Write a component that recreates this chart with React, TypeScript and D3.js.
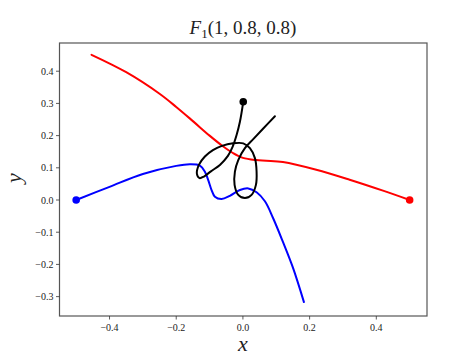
import React from "react";
import * as d3 from "d3";

const xTicks = [-0.4, -0.2, 0.0, 0.2, 0.4];
const yTicks = [-0.3, -0.2, -0.1, 0.0, 0.1, 0.2, 0.3, 0.4];

const redX = [-0.454, -0.35, -0.25, -0.2, -0.15, -0.1, -0.06, -0.03, 0.0, 0.04, 0.07, 0.12, 0.22, 0.32, 0.42, 0.5];
const redY = [0.451, 0.397, 0.33, 0.289, 0.245, 0.2, 0.167, 0.146, 0.131, 0.124, 0.122, 0.118, 0.094, 0.063, 0.029, 0.0];

const blueX = [-0.5, -0.4, -0.3, -0.2, -0.159, -0.129, -0.114, -0.104, -0.094, -0.084, -0.064, -0.039, -0.009, 0.016, 0.041, 0.066, 0.09, 0.12, 0.15, 0.183];
const blueY = [0.0, 0.041, 0.081, 0.106, 0.111, 0.107, 0.088, 0.062, 0.031, 0.01, 0.003, 0.013, 0.031, 0.036, 0.024, -0.004, -0.055, -0.13, -0.21, -0.317];

const blackX = [0.001, -0.009, -0.019, -0.031, -0.045, -0.069, -0.096, -0.117, -0.13, -0.138, -0.132, -0.114, -0.09, -0.063, -0.03, 0.001, 0.021, 0.036, 0.041, 0.039, 0.026, 0.006, -0.014, -0.025, -0.024, -0.014, 0.006, 0.031, 0.061, 0.096];
const blackY = [0.305, 0.243, 0.202, 0.165, 0.137, 0.109, 0.089, 0.073, 0.068, 0.081, 0.109, 0.135, 0.155, 0.168, 0.176, 0.176, 0.161, 0.13, 0.088, 0.047, 0.016, 0.006, 0.016, 0.047, 0.088, 0.124, 0.161, 0.189, 0.222, 0.26];

const W = 474, H = 355;
const left = 59.5, right = 427, top = 43, bottom = 316;

export default function App() {
  const x = d3.scaleLinear().domain([-0.55, 0.552]).range([left, right]);
  const y = d3.scaleLinear().domain([-0.3602, 0.4876]).range([bottom, top]);
  const line = d3
    .line<[number, number]>()
    .x((d) => x(d[0]))
    .y((d) => y(d[1]))
    .curve(d3.curveCatmullRom.alpha(0.5));
  const zip = (a: number[], b: number[]) => a.map((v, i) => [v, b[i]] as [number, number]);
  const red = zip(redX, redY);
  const blue = zip(blueX, blueY);
  const black = zip(blackX, blackY);
  const fmt = (v: number) => (v < 0 ? "\u2212" : "") + Math.abs(v).toFixed(1);
  const font = "'Liberation Serif', 'DejaVu Serif', serif";
  return (
    <svg width={W} height={H} style={{ position: "absolute", left: 0, top: 0, background: "#fff" }}>
      <rect x={0} y={0} width={W} height={H} fill="#fff" />
      <defs>
        <clipPath id="clip">
          <rect x={left} y={top} width={right - left} height={bottom - top} />
        </clipPath>
      </defs>
      <g clipPath="url(#clip)" fill="none" strokeWidth={2} strokeLinejoin="round" strokeLinecap="round">
        <path d={line(red) || ""} stroke="#ff0000" />
        <path d={line(blue) || ""} stroke="#0000ff" />
        <path d={line(black) || ""} stroke="#000000" />
      </g>
      <circle cx={x(red[red.length - 1][0])} cy={y(red[red.length - 1][1])} r={3.8} fill="#ff0000" />
      <circle cx={x(blue[0][0])} cy={y(blue[0][1])} r={3.8} fill="#0000ff" />
      <circle cx={x(black[0][0])} cy={y(black[0][1])} r={3.8} fill="#000000" />
      <rect x={left} y={top} width={right - left} height={bottom - top} fill="none" stroke="#555" strokeWidth={1.2} />
      {xTicks.map((t) => (
        <g key={"x" + t}>
          <line x1={x(t)} x2={x(t)} y1={bottom} y2={bottom + 3.5} stroke="#333" strokeWidth={0.8} />
          <text x={x(t)} y={bottom + 14.5} textAnchor="middle" fontFamily={font} fontSize={10} fill="#222">
            {fmt(t)}
          </text>
        </g>
      ))}
      {yTicks.map((t) => (
        <g key={"y" + t}>
          <line x1={left - 3.5} x2={left} y1={y(t)} y2={y(t)} stroke="#333" strokeWidth={0.8} />
          <text x={left - 6} y={y(t) + 3.5} textAnchor="end" fontFamily={font} fontSize={10} fill="#222">
            {fmt(t)}
          </text>
        </g>
      ))}
      <text x={243} y={34} textAnchor="middle" fontFamily={font} fontSize={19} fill="#222">
        <tspan fontStyle="italic">F</tspan>
        <tspan fontSize={13} dy={4}>1</tspan>
        <tspan dy={-4}>(1, 0.8, 0.8)</tspan>
      </text>
      <text x={243} y={351} textAnchor="middle" fontFamily={font} fontStyle="italic" fontSize={22} fill="#222">
        x
      </text>
      <text
        transform={`translate(21, 178) rotate(-90)`}
        textAnchor="middle"
        fontFamily={font}
        fontStyle="italic"
        fontSize={22}
        fill="#222"
      >
        y
      </text>
    </svg>
  );
}
